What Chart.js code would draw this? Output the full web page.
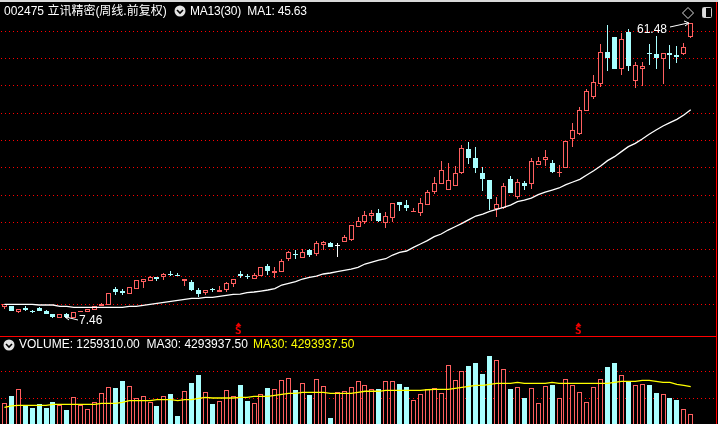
<!DOCTYPE html>
<html lang="zh">
<head>
<meta charset="utf-8">
<title>002475 立讯精密</title>
<script src="https://cdn.jsdelivr.net/npm/chart.js@4/dist/chart.umd.min.js"></script>
<style>
  html, body { margin: 0; padding: 0; background: #000; }
  body { position: relative; width: 718px; height: 424px; overflow: hidden; }
  canvas { position: absolute; left: 0; }
  #priceChart { top: 0; }
  #volumeChart { top: 336px; }
  .label {
    position: absolute; white-space: pre; color: #fff; line-height: 14px;
    font: 12px/14px "Liberation Sans", "Noto Sans CJK SC", sans-serif;
  }
  .yellow { color: #ffff00; }
  .signal { color: #f00000; font: bold 11px/10px "DejaVu Sans Mono", monospace; }
  svg { position: absolute; left: 0; top: 0; }
  #topLine { position: absolute; left: 0; top: 0; width: 718px; height: 2px; background: #d8d8d8; }
  #splitLine { position: absolute; left: 0; top: 336px; width: 716px; height: 1px; background: #ff0000; }
  #rightLine { position: absolute; left: 716px; top: 2px; width: 1px; height: 422px; background: #ff0000; }
</style>
</head>
<body>
<canvas id="priceChart" width="718" height="336"></canvas>
<canvas id="volumeChart" width="718" height="88"></canvas>
<div id="topLine"></div>
<div id="splitLine"></div>
<div id="rightLine"></div>

<div class="label" style="left:4px;top:4px">002475 立讯精密(周线.前复权)</div>
<div class="label" style="left:190px;top:4px;letter-spacing:-0.2px">MA13(30)  MA1: 45.63</div>
<div class="label" style="left:637px;top:22px">61.48</div>
<div class="label" style="left:79px;top:313px">7.46</div>
<div class="label" style="left:19px;top:337px">VOLUME: 1259310.00  MA30: 4293937.50</div>
<div class="label yellow" style="left:253px;top:337px">MA30: 4293937.50</div>
<div class="label signal" style="left:235px;top:326px">S</div>
<div class="label signal" style="left:575px;top:326px">S</div>

<svg width="718" height="424">
  <g fill="#e4e4e4">
    <circle cx="180" cy="11" r="5.5"/>
    <circle cx="9" cy="345" r="5.5"/>
  </g>
  <g fill="none" stroke="#000" stroke-width="1.6">
    <path d="M177 10 L180 13 L183 10"/>
    <path d="M6 344 L9 347 L12 344"/>
  </g>
  <g fill="none" stroke="#fff" stroke-width="1">
    <path d="M670 27 L688 23 M684 21 L689 23 L685 26"/>
    <path d="M78 320 L66 317 M69 315 L65 317 L69 320"/>
    <path d="M688 7.5 L693.5 13 L688 18.5 L682.5 13 Z" stroke="#ddd"/>
    <rect x="702.5" y="7.5" width="9" height="10" rx="1" stroke="#ccc"/>
  </g>
  <rect x="703" y="8" width="3" height="9" fill="#ddd"/>
  <g fill="#f00000">
    <path d="M238.5 322.5 L241.5 326 L235.5 326 Z"/>
    <path d="M578.5 322.5 L581.5 326 L575.5 326 Z"/>
  </g>
</svg>

<script>
// ─── Data (weekly bars) ───────────────────────────────────────────────────────

const openPrices = [
  9.56, 9.62, 8.65, 9.32, 8.83, 9.26, 8.77, 8.16, 7.55, 8.16,
  7.50, 8.59, 8.65, 9.01, 9.75, 9.93, 12.80, 12.49, 11.94, 12.86,
  14.02, 14.32, 14.94, 14.94, 15.55, 15.42, 14.20, 14.02, 12.62, 12.00,
  12.74, 12.31, 12.62, 13.71, 15.61, 15.12, 14.63, 15.24, 17.01, 15.79,
  15.97, 18.35, 19.27, 18.48, 19.94, 19.21, 20.92, 21.16, 20.89, 21.47,
  21.71, 24.21, 25.07, 26.23, 26.72, 24.95, 25.86, 28.67, 28.18, 26.96,
  26.78, 28.24, 30.62, 31.97, 30.99, 31.72, 33.98, 38.44, 36.79, 34.04,
  32.76, 27.39, 27.69, 32.88, 29.65, 32.21, 31.97, 35.57, 36.48, 35.87,
  33.98, 35.02, 40.21, 41.25, 45.46, 48.03, 50.41, 56.15, 58.89, 53.15,
  59.87, 50.96, 53.15, 56.02, 55.84, 54.99, 56.02, 55.66, 55.84, 59.02,
];
const closePrices = [
  9.99, 8.83, 9.20, 8.95, 8.59, 8.83, 8.28, 7.67, 8.16, 7.67,
  8.52, 8.71, 9.07, 9.62, 10.05, 12.00, 12.25, 12.13, 13.10, 14.39,
  14.57, 14.94, 14.63, 15.55, 15.42, 15.24, 14.57, 12.62, 11.88, 12.55,
  12.55, 12.55, 13.84, 14.57, 15.12, 14.93, 15.30, 16.77, 16.09, 16.09,
  17.93, 19.57, 19.02, 19.51, 19.02, 21.22, 21.41, 20.49, 20.89, 22.26,
  24.46, 25.19, 26.35, 26.66, 25.25, 26.17, 28.49, 28.12, 27.69, 27.02,
  28.49, 30.50, 32.15, 34.53, 32.70, 33.98, 38.56, 36.85, 35.02, 32.94,
  29.34, 28.30, 31.60, 30.38, 32.33, 31.72, 36.18, 36.18, 36.91, 34.23,
  34.23, 39.84, 41.86, 45.52, 49.06, 50.65, 56.15, 55.17, 53.15, 58.53,
  53.70, 53.77, 53.58, 55.84, 55.11, 55.96, 55.72, 55.35, 57.12, 61.48,
];
const highPrices = [
  10.10, 9.62, 9.20, 9.62, 9.01, 9.50, 8.95, 8.16, 8.16, 8.46,
  8.52, 8.71, 9.07, 9.62, 10.23, 12.00, 13.16, 12.86, 13.10, 14.39,
  14.57, 15.18, 14.94, 15.73, 16.10, 15.73, 14.57, 14.45, 12.92, 12.55,
  13.04, 13.35, 14.08, 14.57, 16.03, 15.55, 15.67, 16.77, 17.38, 16.77,
  18.29, 19.82, 19.94, 20.06, 20.12, 21.59, 21.59, 21.34, 21.22, 22.63,
  24.46, 25.92, 27.02, 27.27, 27.45, 26.90, 28.49, 28.67, 29.10, 27.57,
  29.40, 30.93, 33.37, 36.24, 35.87, 35.32, 39.17, 39.72, 38.74, 35.14,
  32.76, 29.59, 32.15, 33.49, 32.88, 32.58, 36.79, 36.97, 38.26, 36.42,
  35.51, 39.84, 43.14, 46.07, 49.43, 51.93, 57.67, 61.15, 58.89, 59.63,
  60.36, 54.38, 54.38, 57.67, 59.14, 55.96, 57.49, 57.31, 57.86, 61.48,
];
const lowPrices = [
  9.14, 8.83, 8.46, 8.77, 8.40, 8.71, 8.22, 7.49, 7.55, 7.46,
  7.50, 8.59, 8.65, 9.01, 9.75, 9.93, 11.70, 11.70, 11.94, 12.86,
  13.04, 14.32, 14.26, 14.45, 15.18, 15.18, 13.35, 12.43, 11.39, 11.70,
  12.25, 12.25, 12.31, 13.23, 14.81, 14.57, 14.63, 15.24, 15.42, 14.87,
  15.97, 17.99, 18.35, 18.48, 18.72, 18.90, 19.88, 20.49, 18.66, 21.47,
  21.59, 24.21, 24.70, 25.25, 25.13, 24.03, 25.07, 27.08, 27.14, 26.90,
  26.17, 28.24, 30.20, 31.97, 30.99, 31.72, 33.90, 35.69, 34.10, 30.81,
  27.33, 26.05, 27.51, 30.38, 29.34, 30.99, 31.17, 35.57, 35.26, 34.04,
  33.37, 35.02, 38.87, 41.00, 45.46, 47.60, 49.74, 52.73, 53.15, 52.06,
  52.73, 49.68, 49.92, 53.83, 53.09, 50.41, 53.09, 54.25, 55.60, 58.83,
];
const ma30Line = [
  10.00, 9.99, 9.99, 9.99, 9.99, 9.87, 9.87, 9.87, 9.62, 9.62,
  9.44, 9.44, 9.44, 9.44, 9.44, 9.44, 9.44, 9.44, 9.62, 9.62,
  9.80, 9.99, 10.17, 10.36, 10.54, 10.72, 10.90, 11.09, 11.09, 11.27,
  11.27, 11.45, 11.64, 11.82, 11.88, 12.13, 12.25, 12.43, 12.62, 12.86,
  13.53, 13.84, 14.14, 14.63, 14.93, 15.18, 15.55, 15.73, 15.97, 16.22,
  16.46, 16.77, 17.38, 17.74, 18.11, 18.35, 19.02, 19.51, 19.76, 20.43,
  21.04, 21.65, 22.38, 22.87, 23.60, 24.20, 24.82, 25.50, 26.17, 26.53,
  27.02, 27.39, 27.75, 28.18, 28.79, 29.10, 29.46, 30.07, 30.56, 30.93,
  31.30, 31.90, 32.40, 32.88, 33.68, 34.47, 35.33, 36.31, 37.04, 37.96,
  38.87, 39.48, 40.28, 41.13, 41.93, 42.66, 43.27, 43.88, 44.67, 45.63,
];
// volumes in millions
const volumes = [
  2.44, 3.26, 4.00, 2.22, 1.92, 2.37, 1.92, 2.59, 2.22, 1.70,
  3.11, 2.22, 1.78, 2.59, 3.55, 4.22, 4.15, 4.92, 4.37, 3.00,
  3.26, 2.55, 2.15, 3.26, 3.48, 1.03, 3.78, 4.70, 5.59, 3.66,
  2.37, 2.66, 3.89, 3.26, 4.48, 2.70, 2.44, 3.44, 4.15, 4.00,
  5.00, 5.22, 3.89, 4.66, 3.37, 5.11, 4.33, 0.81, 3.66, 3.78,
  4.22, 4.89, 4.44, 4.00, 4.03, 4.89, 4.89, 4.59, 4.26, 2.78,
  3.44, 4.00, 4.11, 3.55, 6.66, 5.00, 6.00, 6.59, 6.92, 5.70,
  7.70, 7.22, 6.22, 4.03, 4.22, 3.03, 4.11, 2.44, 4.33, 4.48,
  3.00, 5.11, 4.44, 3.66, 2.55, 4.22, 5.11, 6.48, 6.92, 5.55,
  4.92, 4.44, 4.55, 4.48, 3.59, 3.44, 3.03, 2.81, 1.78, 1.26,
];
const volumeMa30 = [
  2.00, 2.15, 2.22, 2.22, 2.22, 2.22, 2.22, 2.33, 2.33, 2.33,
  2.33, 2.33, 2.33, 2.33, 2.44, 2.44, 2.44, 2.55, 2.74, 2.74,
  2.74, 2.74, 2.85, 2.85, 2.85, 2.74, 2.85, 2.85, 3.00, 3.11,
  3.03, 3.03, 3.03, 3.03, 3.11, 3.11, 3.22, 3.22, 3.22, 3.33,
  3.44, 3.55, 3.55, 3.66, 3.66, 3.66, 3.66, 3.55, 3.55, 3.55,
  3.55, 3.66, 3.78, 3.78, 3.78, 3.89, 3.89, 3.89, 3.89, 3.89,
  3.89, 3.95, 4.00, 4.00, 4.00, 4.11, 4.22, 4.33, 4.44, 4.44,
  4.55, 4.66, 4.66, 4.66, 4.77, 4.66, 4.66, 4.66, 4.66, 4.77,
  4.66, 4.66, 4.66, 4.66, 4.66, 4.66, 4.66, 4.66, 4.77, 4.89,
  4.89, 4.89, 5.00, 5.00, 4.89, 4.77, 4.77, 4.55, 4.44, 4.29,
];
const priceGridTicks = [10, 15, 20, 25, 30, 35, 40, 45, 50, 55, 60];
const volumeGridTicks = [3, 6];

// 100 weeks plus three empty slots at the right edge
const weekLabels = [...openPrices.map((_, i) => `W${i + 1}`), '', '', ''];

// ─── Colors ───────────────────────────────────────────────────────────────────

const UP_COLOR = '#ff6060';
const DOWN_COLOR = '#a8ffff';
const FLAT_COLOR = '#ffffff';
const GRID_COLOR = '#ff0000';

function candleColor(i) {
  if (openPrices[i] === closePrices[i]) return FLAT_COLOR;
  return closePrices[i] > openPrices[i] ? UP_COLOR : DOWN_COLOR;
}

// ─── Shared options ───────────────────────────────────────────────────────────

// snap bars to whole pixels, the reference is drawn without antialiasing
const snapBars = {
  id: 'snapBars',
  afterDatasetsUpdate(chart) {
    chart.getSortedVisibleDatasetMetas().forEach(meta => {
      if (meta.type !== 'bar') return;
      meta.data.forEach(el => {
        el.x = Math.round(el.x - 0.5) + 0.5;
        const top = Math.round(el.y);
        let bottom = Math.round(el.base);
        if (bottom - top < 1) bottom = top + 1;
        el.y = top;
        el.base = bottom;
        el.height = bottom - top;
      });
    });
  },
};

function panelOptions(min, max, gridTicks) {
  return {
    responsive: false,
    animation: false,
    devicePixelRatio: 1,
    layout: { padding: { left: 1, right: 3, top: 0, bottom: 0 } },
    plugins: { legend: { display: false }, tooltip: { enabled: false } },
    scales: {
      x: { display: false, offset: true },
      y: {
        min,
        max,
        afterFit: scale => { scale.width = 0; },
        afterBuildTicks: scale => { scale.ticks = gridTicks.map(value => ({ value })); },
        ticks: { display: false },
        border: { display: false, dash: [1, 3] },
        grid: { color: GRID_COLOR, lineWidth: 1, drawTicks: false },
      },
    },
  };
}

// ─── Price panel ──────────────────────────────────────────────────────────────

new Chart(document.getElementById('priceChart'), {
  type: 'bar',
  plugins: [snapBars],
  data: {
    labels: weekLabels,
    datasets: [
      {
        type: 'line',
        data: ma30Line,
        borderColor: '#ffffff',
        borderWidth: 1.3,
        pointRadius: 0,
        tension: 0,
        order: 1,
      },
      {
        data: openPrices.map((o, i) => [o, closePrices[i]]),
        barThickness: 5,
        grouped: false,
        inflateAmount: 0,
        borderWidth: 1,
        borderSkipped: false,
        borderColor: openPrices.map((_, i) => candleColor(i)),
        backgroundColor: openPrices.map((_, i) => (candleColor(i) === UP_COLOR ? '#000000' : candleColor(i))),
        order: 2,
      },
      {
        data: lowPrices.map((l, i) => [l, highPrices[i]]),
        barThickness: 1,
        grouped: false,
        inflateAmount: 0,
        borderWidth: 0,
        backgroundColor: openPrices.map((_, i) => candleColor(i)),
        order: 3,
      },
    ],
  },
  options: panelOptions(4.194, 65.73, priceGridTicks),
});

// ─── Volume panel ─────────────────────────────────────────────────────────────

new Chart(document.getElementById('volumeChart'), {
  type: 'bar',
  plugins: [snapBars],
  data: {
    labels: weekLabels,
    datasets: [
      {
        type: 'line',
        data: volumeMa30,
        borderColor: '#ffff00',
        borderWidth: 1.3,
        pointRadius: 0,
        tension: 0,
        order: 1,
      },
      {
        data: volumes,
        barThickness: 5,
        inflateAmount: 0,
        borderWidth: 1,
        borderSkipped: false,
        borderColor: volumes.map((_, i) => (closePrices[i] >= openPrices[i] ? UP_COLOR : DOWN_COLOR)),
        backgroundColor: volumes.map((_, i) => (closePrices[i] >= openPrices[i] ? '#000000' : DOWN_COLOR)),
        order: 2,
      },
    ],
  },
  options: panelOptions(0.144, 9.92, volumeGridTicks),
});
</script>
</body>
</html>
